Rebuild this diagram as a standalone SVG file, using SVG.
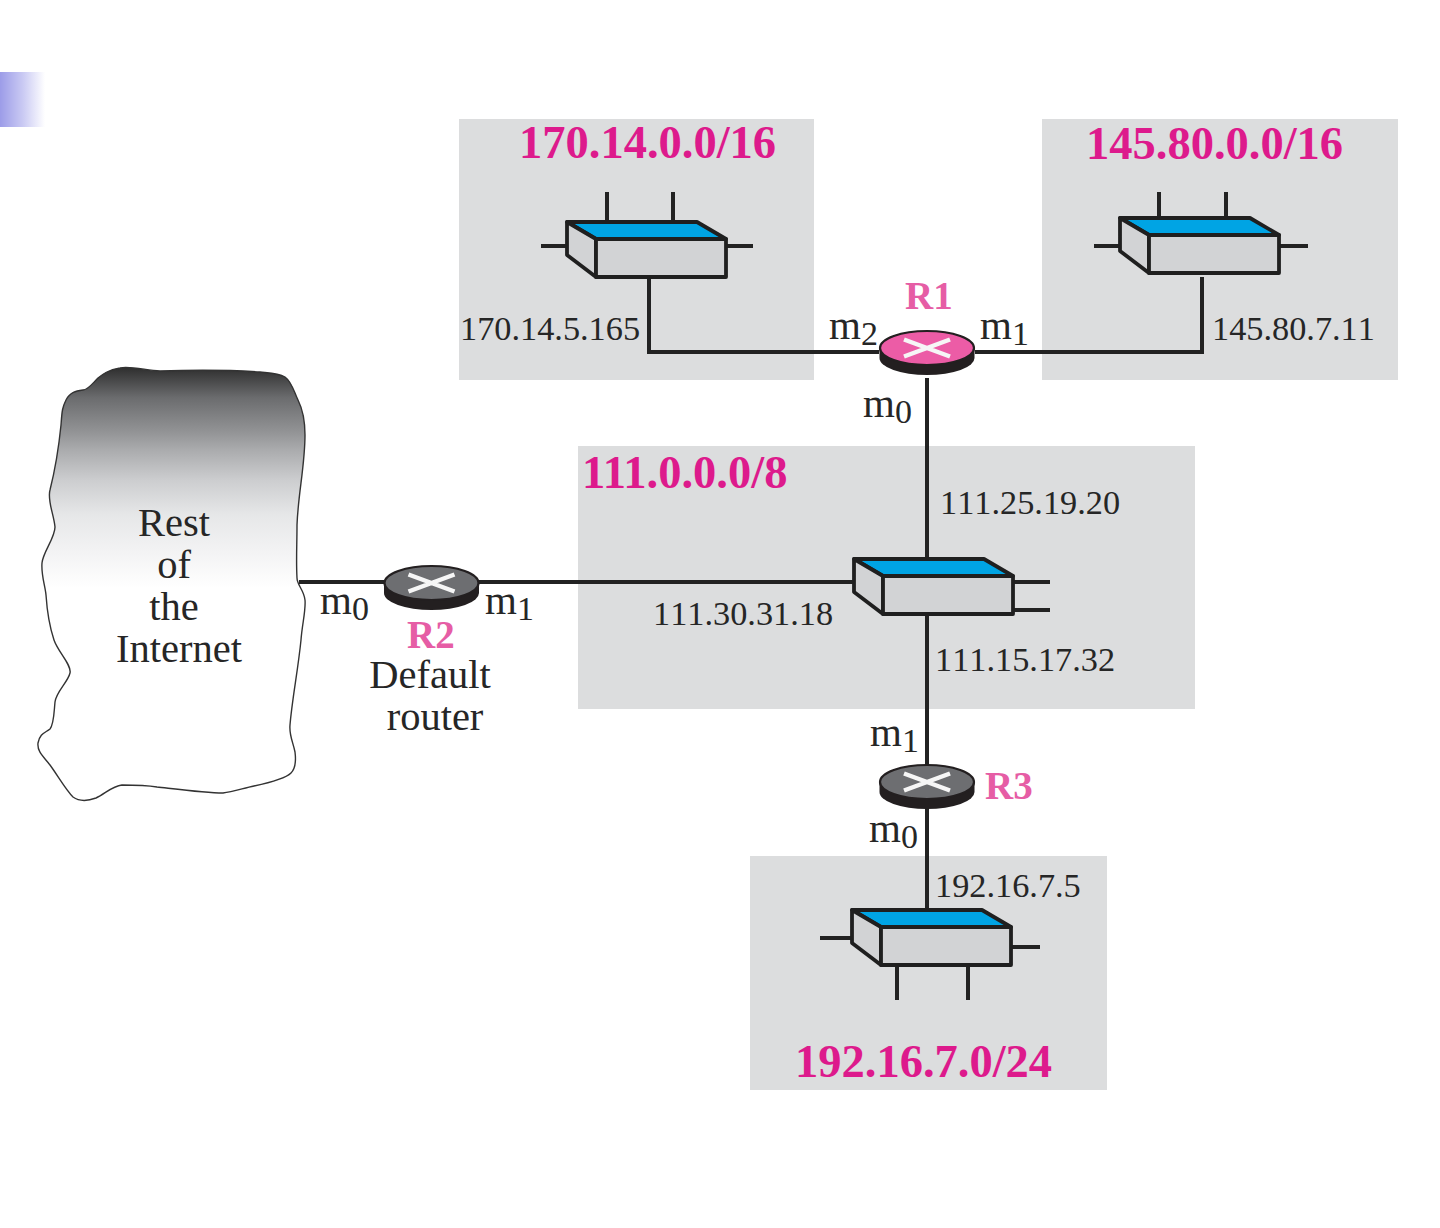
<svg xmlns="http://www.w3.org/2000/svg" xmlns:xlink="http://www.w3.org/1999/xlink" width="1440" height="1228" viewBox="0 0 1440 1228">
<style>
text{font-family:"Liberation Serif","Times New Roman",serif;fill:#262626}
.panel{fill:#dcddde}
.net{font-size:46.5px;font-weight:bold;fill:#dd1a8c}
.rn{font-size:39px;font-weight:bold;fill:#e65da5}
.ip{font-size:34.3px;font-kerning:none}
.big{font-size:40.5px;text-anchor:middle}
.m{font-size:41px}
.m tspan{font-size:34px}
.w{fill:none;stroke:#222;stroke-width:4}
.box{stroke:#1f1f1f;stroke-width:3.8;stroke-linejoin:round}
.x{stroke:#f6f6f6;stroke-width:4.5;fill:none}
</style>
<defs>
<linearGradient id="cloudFill" x1="0" y1="0" x2="0" y2="1">
<stop offset="0" stop-color="#2e2e2e"/><stop offset="0.07" stop-color="#6b6c6e"/><stop offset="0.15" stop-color="#939496"/><stop offset="0.19" stop-color="#aaabad"/><stop offset="0.26" stop-color="#cccdcf"/><stop offset="0.34" stop-color="#e6e7e8"/><stop offset="0.42" stop-color="#f2f2f3"/><stop offset="0.51" stop-color="#fff"/><stop offset="1" stop-color="#fff"/>
</linearGradient>
<linearGradient id="cornerFill" x1="0" y1="0" x2="1" y2="0">
<stop offset="0" stop-color="#9c9ce8"/><stop offset="0.5" stop-color="#c9c9f3"/><stop offset="1" stop-color="#fff"/>
</linearGradient>
<g id="switch">
<path class="box" fill="#00a4e4" d="M0 0H130L159 17H29Z"/>
<path class="box" fill="#d2d3d5" d="M0 0L29 17V55L0 33Z"/>
<rect class="box" fill="#d2d3d5" x="29" y="17" width="130" height="38"/>
</g>
<g id="routerBase">
<path fill="#231f20" d="M-47.5 0V10A47.5 17 0 0 0 47.5 10V0Z"/>
</g>
<path id="cross" class="x" d="M-23 -8.5L23 8.5M-23 8.5L23 -8.5"/>
</defs>

<rect width="1440" height="1228" fill="#fff"/>
<rect id="corner" x="0" y="72" width="45" height="55" fill="url(#cornerFill)"/>

<g id="panels">
<rect class="panel" x="459" y="119" width="355" height="261"/>
<rect class="panel" x="1042" y="119" width="356" height="261"/>
<rect class="panel" x="578" y="446" width="617" height="263"/>
<rect class="panel" x="750" y="856" width="357" height="234"/>
</g>

<g id="connectors">
<path class="w" d="M299 582H384"/>
<path class="w" d="M479 582H854"/>
<path class="w" d="M649 277V352H879"/>
<path class="w" d="M975 352H1202V277"/>
<path class="w" d="M927 378V559"/>
<path class="w" d="M927 614V765"/>
<path class="w" d="M927 808V909"/>
</g>

<g id="cloud">
<path fill="url(#cloudFill)" stroke="#333" stroke-width="1.4" d="M160 371C145 370 130 366 120 368C108 370 103 374 98 378C92 384 88 390 83 390C76 391 70 392 66 400C62 408 62 412 61 425C59 445 55 470 50 490C47 500 54 515 55 527C55 538 43 552 42 563C41 575 45 585 46 595C47 610 50 628 54 640C58 652 72 665 70 673C68 682 56 692 55 702C54 712 54 724 50 729C45 733 40 733 38 743C37 752 44 757 50 765C58 776 66 790 73 797C80 802 88 801 96 798C105 794 112 786 122 785C135 785 145 785 157 787C175 789 205 793 223 793C233 792 244 788 254 786C268 783 285 779 291 773C296 768 296 760 295 752C293 742 289 735 290 725C292 700 298 670 301 640C302 625 306 610 305 600C304 590 297 585 297 578C296 560 297 545 297 525C298 495 305 465 305 435C305 420 302 408 298 400C294 392 292 382 285 377C278 373 270 373 260 372C230 370 190 370 160 371Z"/>
<text class="big" x="174" y="536">Rest</text>
<text class="big" x="174" y="578">of</text>
<text class="big" x="174" y="620">the</text>
<text class="big" x="179" y="662">Internet</text>
</g>

<g id="net-170">
<path class="w" d="M607 192V222M673 192V222M541 246H567M726 246H753"/>
<use href="#switch" x="567" y="222"/>
<text class="net" x="519" y="158">170.14.0.0/16</text>
<text class="ip" x="460" y="340">170.14.5.165</text>
</g>

<g id="net-145">
<path class="w" d="M1159 192V218M1226 192V218M1094 246H1120M1279 246H1308"/>
<use href="#switch" x="1120" y="218"/>
<text class="net" x="1086" y="159">145.80.0.0/16</text>
<text class="ip" x="1212" y="340">145.80.7.11</text>
</g>

<g id="net-111">
<path class="w" d="M1013 582H1050M1013 610H1050"/>
<use href="#switch" x="854" y="559"/>
<text class="net" x="582" y="488">111.0.0.0/8</text>
<text class="ip" x="940" y="514">111.25.19.20</text>
<text class="ip" x="653" y="625">111.30.31.18</text>
<text class="ip" x="935" y="671">111.15.17.32</text>
</g>

<g id="net-192">
<path class="w" d="M820 938H853M1011 947H1040M897 965V1000M968 965V1000"/>
<use href="#switch" x="852" y="910"/>
<text class="net" x="795" y="1077">192.16.7.0/24</text>
<text class="ip" x="935" y="897">192.16.7.5</text>
</g>

<g id="R1">
<use href="#routerBase" x="927" y="348"/>
<ellipse cx="927" cy="348" rx="47" ry="17" fill="#ec5ca6" stroke="#231f20" stroke-width="2.2"/>
<use href="#cross" x="927" y="348"/>
<text class="rn" x="905" y="309">R1</text>
<text class="m" x="829" y="339">m<tspan dy="6">2</tspan></text>
<text class="m" x="980" y="339">m<tspan dy="6">1</tspan></text>
<text class="m" x="863" y="417">m<tspan dy="6">0</tspan></text>
</g>

<g id="R2">
<use href="#routerBase" x="431.5" y="583"/>
<ellipse cx="431.5" cy="583" rx="47" ry="17" fill="#6d6e71" stroke="#231f20" stroke-width="2.2"/>
<use href="#cross" x="431.5" y="583"/>
<text class="rn" x="407" y="648">R2</text>
<text class="m" x="320" y="614">m<tspan dy="6">0</tspan></text>
<text class="m" x="485" y="614">m<tspan dy="6">1</tspan></text>
<text class="big" x="430" y="688">Default</text>
<text class="big" x="435" y="730">router</text>
</g>

<g id="R3">
<use href="#routerBase" x="927" y="782"/>
<ellipse cx="927" cy="782" rx="47" ry="17" fill="#6d6e71" stroke="#231f20" stroke-width="2.2"/>
<use href="#cross" x="927" y="782"/>
<text class="rn" x="985" y="799">R3</text>
<text class="m" x="870" y="746">m<tspan dy="6">1</tspan></text>
<text class="m" x="869" y="842">m<tspan dy="6">0</tspan></text>
</g>
</svg>
